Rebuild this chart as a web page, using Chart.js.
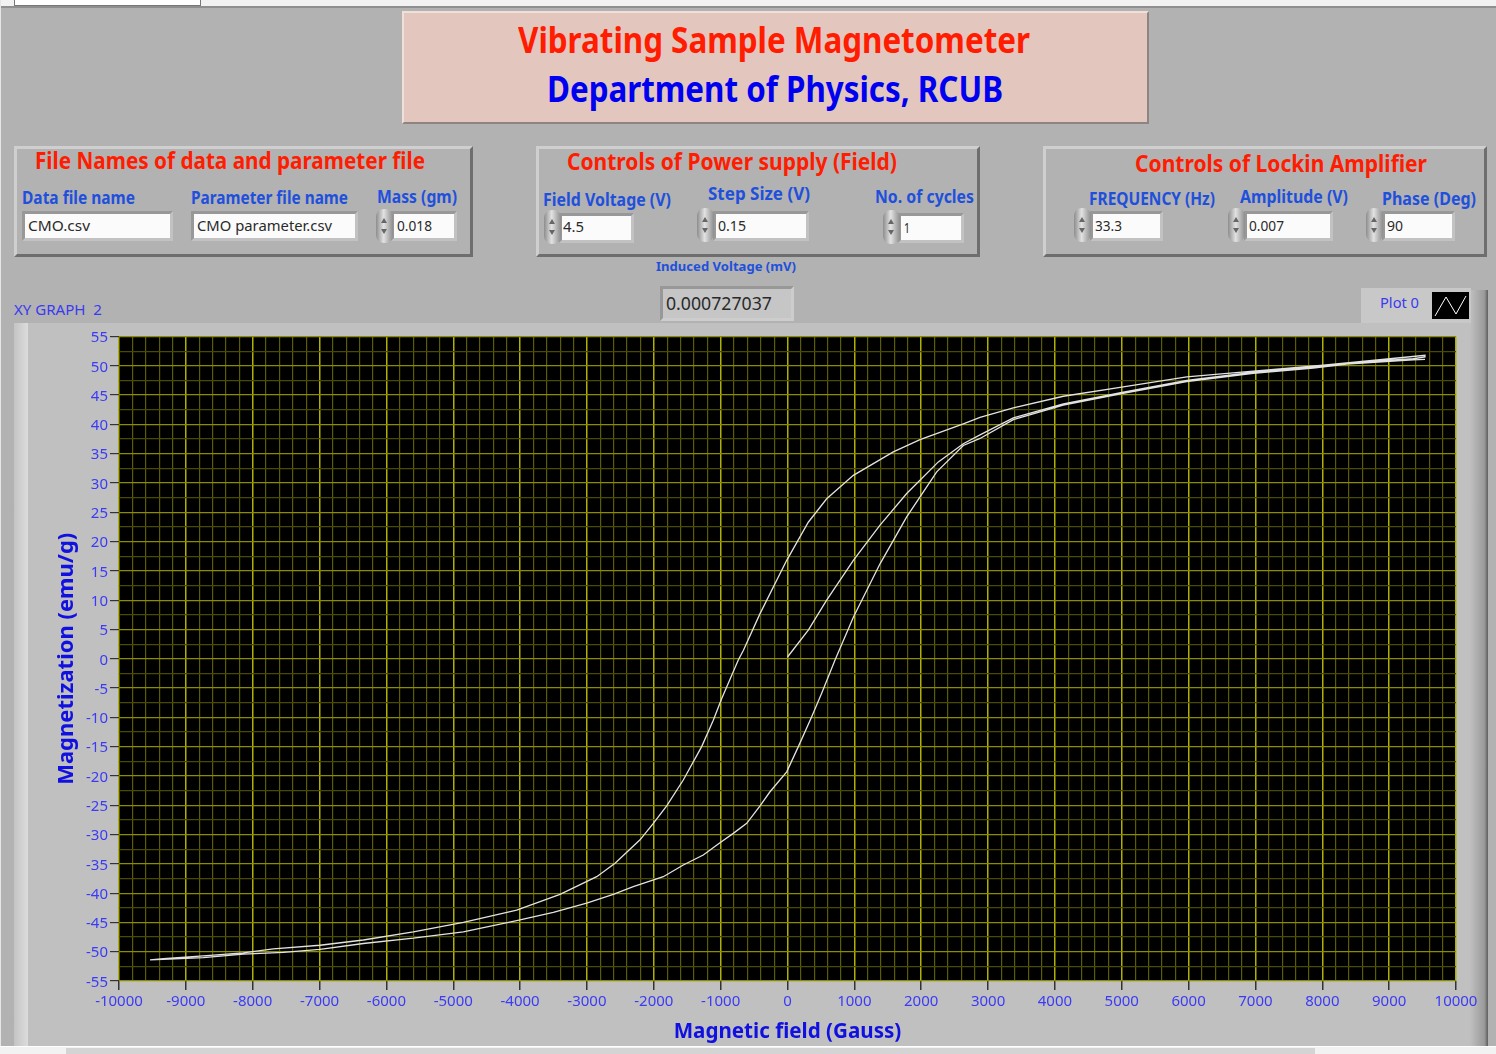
<!DOCTYPE html>
<html>
<head>
<meta charset="utf-8">
<title>Vibrating Sample Magnetometer</title>
<script src="https://cdn.jsdelivr.net/npm/chart.js@4/dist/chart.umd.min.js"></script>
<style>
html, body { margin: 0; padding: 0; background: #b2b2b2; }
#page { position: relative; width: 1496px; height: 1054px; overflow: hidden; background: #b2b2b2; font-family: "Noto Sans", sans-serif; }
#page > div { position: absolute; box-sizing: border-box; }
.strip { left: 1px; top: 0; width: 1495px; height: 8px; background: #f2f2f2; border-bottom: 2px solid #8f8f8f; }
.edge0 { left: 0; top: 0; width: 1px; height: 1054px; background: #e6e6e6; }
.tab { left: 14px; top: 0; width: 187px; height: 6px; background: #fff; border: 1px solid #777; border-top: 0; }
.panel { background: #b2b2b2; border: 3px solid; border-color: #cfcfcf #6e6e6e #6e6e6e #cfcfcf; }
.banner { left: 402px; top: 11px; width: 747px; height: 113px; background: #e3c6bd; border: 2px solid; border-color: #efe0da #8f8580 #8f8580 #efe0da; }
.input { background: #fbfbfb; border: 3px solid; border-color: #989898 #c2c2c2 #c2c2c2 #989898; }
.spin { width: 17px; height: 34px; border-radius: 8px; background: linear-gradient(90deg, #8d8d8d, #e2e2e2 45%, #8d8d8d); }
.spin:before, .spin:after { content: ""; position: absolute; left: 5px; border-left: 3.5px solid transparent; border-right: 3.5px solid transparent; }
.spin:before { top: 9px; border-bottom: 5px solid #666; }
.spin:after { bottom: 9px; border-top: 5px solid #666; }
.display { left: 660px; top: 286px; width: 134px; height: 35px; background: #c6c6c6; border: 3px solid; border-color: #989898 #cdcdcd #cdcdcd #989898; }
.frame { left: 14px; top: 323px; width: 1472px; height: 724px; background: #c0c0c0; }
.edgeL { left: 14px; top: 323px; width: 14px; height: 724px; background: linear-gradient(90deg, #c4c4c4, #dcdcdc); }
.edgeR { left: 1470px; top: 290px; width: 18px; height: 757px; background: linear-gradient(90deg, #c0c0c0, #9a9a9a 80%, #5e5e5e); }
.legend { left: 1361px; top: 288px; width: 110px; height: 35px; background: #c8c8c8; }
.icon { left: 1432px; top: 292px; width: 37px; height: 27px; background: #000; }
.icon svg { display: block; }
.foot { left: 0; top: 1046px; width: 1496px; height: 8px; background: #f2f2f2; border-top: 1px solid #fff; }
.bar { left: 66px; top: 1048px; width: 1249px; height: 6px; background: #d4d4d4; }
canvas { position: absolute; left: 14px; top: 323px; }
#page > div.t { white-space: pre; line-height: 1; transform-origin: 0 50%; }
.red { color: #ff1c00; font-weight: 700; }
.blue { color: #1f50dc; font-weight: 700; }
.deep { color: #0000f0; font-weight: 700; }
.val { color: #2a2a2a; }
.lab { color: #3a3af0; }
</style>
</head>
<body>
<div id="page">
  <div class="strip"></div>
  <div class="edge0"></div>
  <div class="tab"></div>
  <div class="banner"></div>
  <div class="panel" style="left:14px;top:146px;width:459px;height:111px"></div>
  <div class="panel" style="left:536px;top:146px;width:444px;height:111px"></div>
  <div class="panel" style="left:1043px;top:146px;width:444px;height:111px"></div>

  <div class="input" style="left:22px;top:211px;width:151px;height:30px"></div>
  <div class="input" style="left:191px;top:211px;width:167px;height:30px"></div>
  <div class="input" style="left:391px;top:211px;width:66px;height:30px"></div>
  <div class="input" style="left:559px;top:213px;width:75px;height:30px"></div>
  <div class="input" style="left:713px;top:211px;width:96px;height:30px"></div>
  <div class="input" style="left:898px;top:213px;width:66px;height:30px"></div>
  <div class="input" style="left:1090px;top:211px;width:73px;height:30px"></div>
  <div class="input" style="left:1244px;top:211px;width:89px;height:30px"></div>
  <div class="input" style="left:1382px;top:211px;width:73px;height:30px"></div>

  <div class="spin" style="left:376px;top:209px"></div>
  <div class="spin" style="left:544px;top:210px"></div>
  <div class="spin" style="left:697px;top:208px"></div>
  <div class="spin" style="left:883px;top:210px"></div>
  <div class="spin" style="left:1074px;top:208px"></div>
  <div class="spin" style="left:1228px;top:208px"></div>
  <div class="spin" style="left:1366px;top:208px"></div>

  <div class="display"></div>
  <div class="frame"></div>
  <div class="edgeL"></div>
  <div class="edgeR"></div>
  <div class="legend"></div>
  <div class="icon"><svg width="37" height="27"><polyline points="3,24 14,5 24,22 34,4" fill="none" stroke="#fff" stroke-width="1"/></svg></div>
  <div class="foot"></div>
  <div class="bar"></div>
  <canvas id="vsm-chart" width="1472" height="724"></canvas>
</div>

<script>
// Initial magnetisation curve, 0 up to the top field
const initialField = [0, 311, 586, 985, 1384, 1783, 2256, 2630, 2880, 3378, 4126, 5023, 5972, 6968, 7865, 8365, 9361, 9536];
const initialMoment = [0.3, 4.9, 10, 16.8, 22.8, 28.2, 33.6, 36.7, 38.2, 41.1, 43.5, 45.5, 47.5, 48.9, 49.8, 50.5, 51.2, 51.5];

// Upper branch, field coming down from the top to the bottom
const downField = [9536, 9012, 8015, 6968, 5972, 5023, 4126, 3378, 2880, 2630, 1982, 1583, 985, 586, 311, -12, -411, -661, -736, -984, -1110, -1284, -1559, -1807, -2007, -2206, -2580, -2854, -3403, -4051, -4849, -5597, -6345, -6993, -7692, -8141, -8739, -9337, -9536];
const downMoment = [51.8, 51.2, 50.1, 49.1, 48.1, 46.4, 44.8, 42.8, 41.2, 40.1, 37.4, 35.3, 31.3, 27.3, 23.3, 16.8, 7.7, 1.4, -0.2, -6.8, -10.5, -15, -20.7, -25.1, -28.1, -30.9, -34.9, -37.2, -40.2, -42.9, -45, -46.6, -48, -48.9, -49.5, -50.2, -50.7, -51.2, -51.4];

// Lower branch, field going back up to the top
const upField = [-9536, -9337, -8739, -8141, -7542, -6993, -6345, -5597, -4849, -4051, -3503, -3004, -2606, -2307, -1858, -1559, -1260, -1010, -811, -610, -411, -262, -12, 162, 362, 511, 711, 985, 1384, 1783, 2232, 2630, 2880, 3378, 4126, 5023, 5972, 6968, 7865, 8365, 9361, 9536];
const upMoment = [-51.4, -51.3, -51, -50.4, -50.1, -49.6, -48.6, -47.7, -46.6, -44.7, -43.3, -41.7, -40.2, -38.9, -37.2, -35.2, -33.5, -31.4, -29.8, -28.1, -25.1, -22.7, -19.3, -15, -9.9, -5.9, -0.2, 7.1, 16.2, 24.2, 31.9, 36.4, 37.6, 40.8, 43.3, 45.3, 47.3, 48.7, 49.6, 50.3, 51, 51.1];

// Panel captions: text, left, right, centre y, font size, colour class
const captions = [
    ["Vibrating Sample Magnetometer", 518, 1030, 39, 35, "red"],
    ["Department of Physics, RCUB", 547, 1003, 88, 35, "deep"],
    ["File Names of data and parameter file", 35, 425, 160, 23, "red"],
    ["Data file name", 22, 135, 197, 17, "blue"],
    ["Parameter file name", 191, 348, 197, 17, "blue"],
    ["Mass (gm)", 377, 457, 196, 17, "blue"],
    ["CMO.csv", 28, 90, 225, 15, "val"],
    ["CMO parameter.csv", 197, 332, 225, 15, "val"],
    ["0.018", 397, 432, 225, 15, "val"],
    ["Controls of Power supply (Field)", 567, 897, 161, 23, "red"],
    ["Field Voltage (V)", 543, 671, 199, 17, "blue"],
    ["Step Size (V)", 708, 810, 193, 17, "blue"],
    ["No. of cycles", 875, 974, 196, 17, "blue"],
    ["4.5", 563, 584, 226, 15, "val"],
    ["0.15", 718, 746, 225, 15, "val"],
    ["1", 904, 910, 227, 15, "val"],
    ["Controls of Lockin Amplifier", 1135, 1427, 163, 23, "red"],
    ["FREQUENCY (Hz)", 1089, 1215, 198, 17, "blue"],
    ["Amplitude (V)", 1240, 1348, 196, 17, "blue"],
    ["Phase (Deg)", 1382, 1476, 198, 17, "blue"],
    ["33.3", 1095, 1122, 225, 15, "val"],
    ["0.007", 1249, 1284, 225, 15, "val"],
    ["90", 1387, 1403, 225, 15, "val"],
    ["Induced Voltage (mV)", 656, 796, 267, 12, "blue"],
    ["0.000727037", 666, 772, 303, 18, "val"],
    ["XY GRAPH  2", 14, 102, 309, 15, "lab"],
    ["Plot 0", 1380, 1419, 303, 14, "lab"]
];

const page = document.getElementById("page");

// Captions get squeezed to the width they have in the LabVIEW panel
captions.forEach(([text, x0, x1, yc, size, cls]) => {
    const el = document.createElement("div");
    el.className = "t " + cls;
    el.textContent = text;
    el.style.left = x0 + "px";
    el.style.top = yc - size / 2 + "px";
    el.style.fontSize = size + "px";
    page.appendChild(el);
    el.style.transform = "scaleX(" + (x1 - x0) / el.getBoundingClientRect().width + ")";
});

function toPoints(xs, ys) {
    return xs.map((x, i) => ({ x: x, y: ys[i] }));
}

// Black plot background
const plotBackground = {
    id: "plotBackground",
    beforeDraw(chart) {
        const a = chart.chartArea;
        chart.ctx.fillStyle = "#000";
        chart.ctx.fillRect(a.left, a.top, a.right - a.left, a.bottom - a.top);
    },
};

const tickFont = { family: "'Liberation Sans Narrow', 'Noto Sans', sans-serif", size: 15 };

new Chart(document.getElementById("vsm-chart"), {
    type: "scatter",
    data: {
        datasets: [
            {
                label: "Plot 0",
                data: toPoints(initialField, initialMoment)
                    .concat(toPoints(downField, downMoment))
                    .concat(toPoints(upField, upMoment)),
                showLine: true,
                borderColor: "#e2e2e2",
                borderWidth: 1.3,
                pointRadius: 0,
                tension: 0,
            },
        ],
    },
    options: {
        responsive: false,
        animation: false,
        layout: { padding: { top: 13.5, right: 30, bottom: 0, left: 0 } },
        plugins: {
            legend: { display: false },
            tooltip: { enabled: false },
        },
        scales: {
            x: {
                min: -10000,
                max: 10000,
                afterFit: (s) => { s.height = 66; },
                border: { display: false },
                grid: {
                    lineWidth: (c) => (c.tick.value % 1000 === 0 ? 1.5 : 1.2),
                    tickLength: 9,
                    color: (c) => (c.tick.value % 1000 === 0 ? "#b0b000" : "#5c5c00"),
                    tickColor: (c) => (c.tick.value % 1000 === 0 ? "#333" : "rgba(0,0,0,0)"),
                },
                ticks: {
                    stepSize: 200,
                    autoSkip: false,
                    maxRotation: 0,
                    padding: 3,
                    color: "#3a3af8",
                    font: tickFont,
                    callback: (v) => (v % 1000 === 0 ? String(v) : ""),
                },
                title: {
                    display: true,
                    text: "Magnetic field (Gauss)",
                    color: "#1010e0",
                    font: { family: "'Noto Sans', sans-serif", size: 20.6, weight: "bold", lineHeight: 1.2 },
                    padding: { top: 0, bottom: 3 },
                },
            },
            y: {
                min: -55,
                max: 55,
                afterFit: (s) => { s.width = 105; },
                border: { display: false },
                grid: {
                    lineWidth: 1.2,
                    tickLength: 9,
                    color: (c) => (c.tick.value % 5 === 0 ? "#8c8c00" : "#4a4a00"),
                    tickColor: (c) => (c.tick.value % 5 === 0 ? "#333" : "rgba(0,0,0,0)"),
                },
                ticks: {
                    stepSize: 2.5,
                    autoSkip: false,
                    padding: 2,
                    labelOffset: 1.5,
                    color: "#3a3af8",
                    font: tickFont,
                    callback: (v) => (v % 5 === 0 ? String(v) : ""),
                },
                title: {
                    display: true,
                    text: "Magnetization (emu/g)",
                    color: "#1010e0",
                    font: { family: "'Noto Sans', sans-serif", size: 22, weight: "bold", lineHeight: 1.2 },
                    padding: { top: 40, bottom: 0 },
                },
            },
        },
    },
    plugins: [plotBackground],
});
</script>
</body>
</html>
